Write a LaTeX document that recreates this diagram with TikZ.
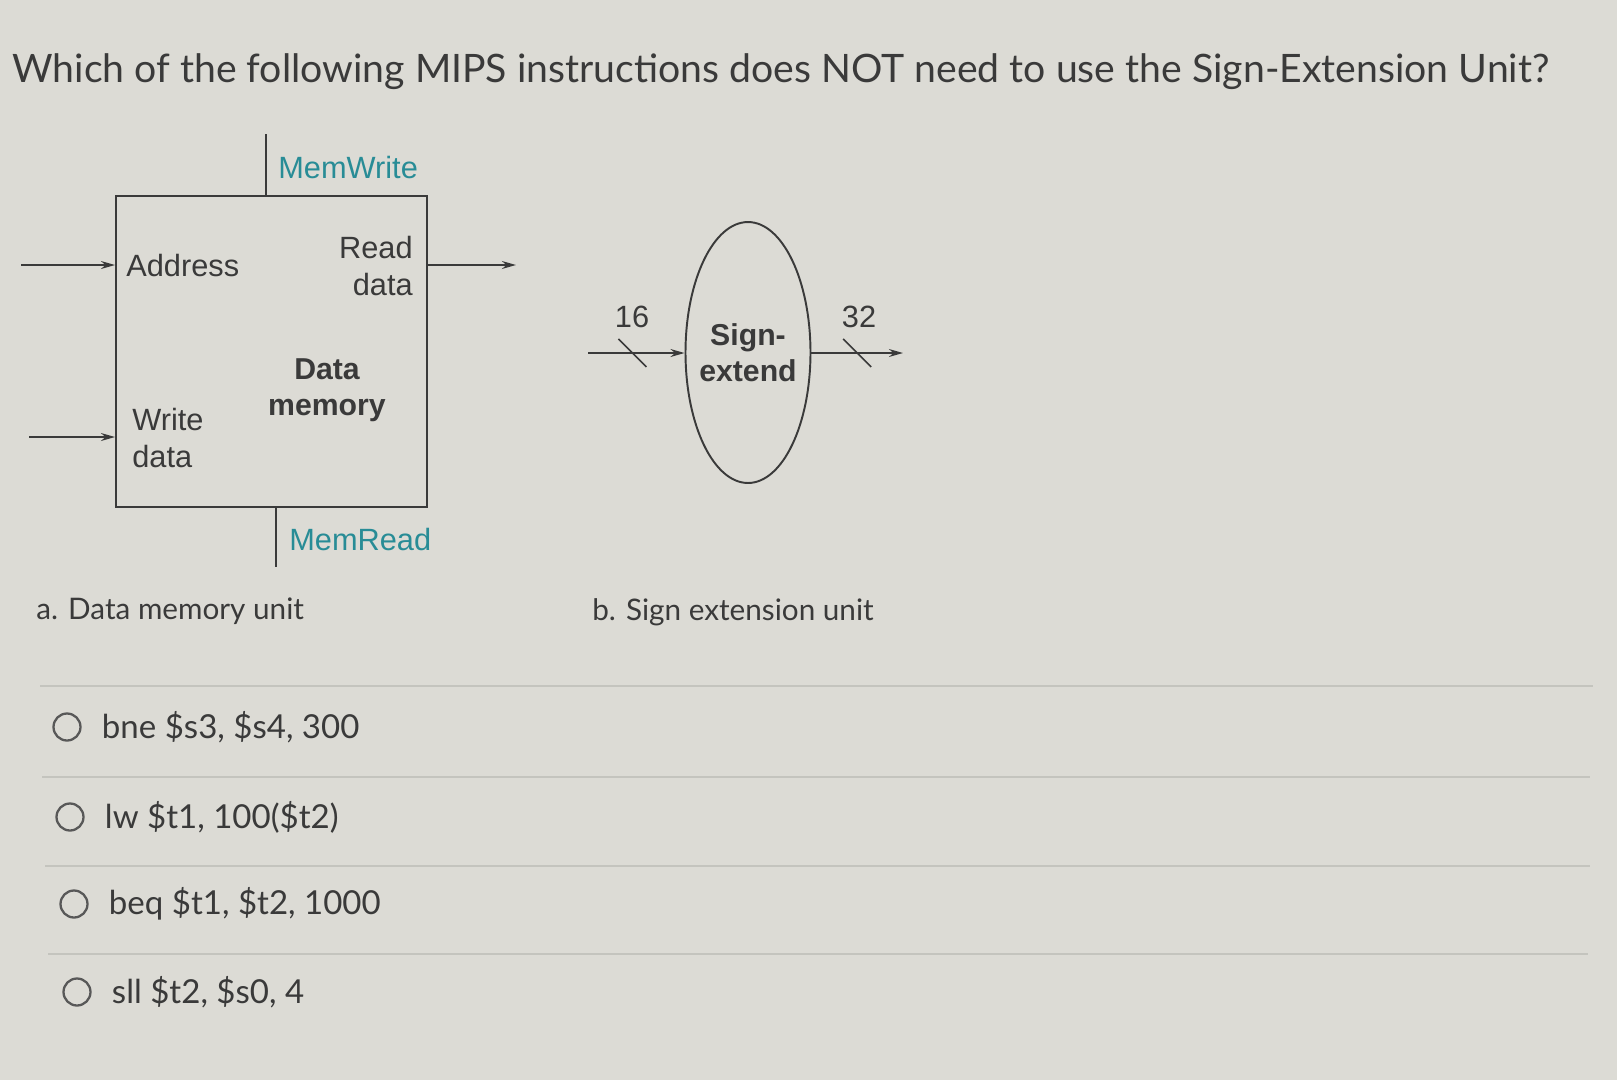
\documentclass[tikz,border=0pt]{standalone}
\usepackage{fontspec}
\setmainfont{Lato}
\newfontfamily\arialfont{Liberation Sans}
\usetikzlibrary{arrows.meta, positioning, calc, shapes.geometric}
\definecolor{bgpaper}{RGB}{220,219,213}
\definecolor{inktext}{RGB}{58,58,58}
\definecolor{ctrlteal}{RGB}{40,140,150}
\definecolor{rulegray}{RGB}{196,196,190}

\begin{document}
\begin{tikzpicture}[x=0.02cm, y=-0.02cm, >={Stealth[length=8pt,width=4.5pt]},
  every node/.style={text=inktext, inner sep=0pt},
  lbl/.style={font=\arialfont\fontsize{17.5}{20.5}\selectfont},
  ctrl/.style={lbl, text=ctrlteal},
  bold/.style={font=\arialfont\bfseries\fontsize{17.2}{20.5}\selectfont, align=center},
  wire/.style={draw=inktext, line width=1.1pt},
  rule/.style={draw=rulegray, line width=0.8pt},
  option/.style={font=\fontsize{18.8}{23}\selectfont},
  radio/.style={circle, draw=inktext!85, line width=1.3pt, minimum size=0.54cm}]
  \fill[bgpaper] (0,0) rectangle (1617,1080);
  \useasboundingbox (0,0) rectangle (1617,1080);

  \node[anchor=west, font=\fontsize{22.3}{27}\selectfont] (title) at (12,72)
    {Which of the following MIPS instructions does NOT need to use the Sign-Extension Unit?};

  % data memory unit
  \node[wire, minimum width=6.22cm, minimum height=6.22cm] (dmem) at (271.5,351.5) {};
  \node[bold] (dmemlbl) at (327,390) {Data\\memory};
  \node[lbl, anchor=west] (addr) at (126,265) {Address};
  \node[lbl, anchor=east, align=right] (rdata) at (413,266) {Read\\data};
  \node[lbl, anchor=west, align=left] (wdata) at (132,438) {Write\\data};
  \coordinate (addrin) at (21,265);
  \coordinate (wdin) at (29,437);
  \coordinate (rdout) at (516,265);
  \coordinate (mwtop) at (266,134);
  \coordinate (mrbot) at (276,567);
  \draw[wire, ->] (addrin) -- (addrin -| dmem.west);
  \draw[wire, ->] (wdin) -- (wdin -| dmem.west);
  \draw[wire, ->] (rdout -| dmem.east) -- (rdout);
  \draw[wire, line width=0.8pt] (mwtop) -- (mwtop |- dmem.north);
  \draw[wire, line width=0.8pt] (mrbot |- dmem.south) -- (mrbot);
  \node[ctrl, anchor=west] (mwlbl) at (278,167) {MemWrite};
  \node[ctrl, anchor=west] (mrlbl) at (289,539) {MemRead};

  % sign extension unit
  \node[ellipse, wire, minimum width=2.5cm, minimum height=5.22cm] (sext) at (748,352.5) {};
  \node[bold] (sextlbl) at (sext.center) {Sign-\\extend};
  \coordinate (sxin) at (588,353);
  \coordinate (sxout) at (903,353);
  \draw[wire, ->] (sxin) -- (sxin -| sext.west);
  \draw[wire, ->] (sxout -| sext.east) -- (sxout);
  \draw[wire, line width=0.9pt] ($(sxin)!0.46!(sxin -| sext.west)$) +(-14,-14) -- +(14,14);
  \draw[wire, line width=0.9pt] ($(sxout -| sext.east)!0.5!(sxout)$) +(-14,-14) -- +(14,14);
  \node[lbl] (w16) at (632,317) {16};
  \node[lbl] (w32) at (859,317) {32};

  \node[anchor=west, font=\fontsize{16.9}{21}\selectfont] (capa) at (36,611) {a. Data memory unit};
  \node[anchor=west, font=\fontsize{16.9}{21}\selectfont] (capb) at (592,612) {b. Sign extension unit};

  % answer options
  \draw[rule] (40,686) -- (1593,686);
  \draw[rule] (42,777) -- (1590,777);
  \draw[rule] (45,866) -- (1590,866);
  \draw[rule] (48,954) -- (1588,954);
  \node[radio] (rad1) at (67,727) {};
  \node[radio] (rad2) at (70,817) {};
  \node[radio] (rad3) at (74,904) {};
  \node[radio] (rad4) at (77,992) {};
  \node[option, right=0.4cm of rad1] (opt1) {bne \$s3, \$s4, 300};
  \node[option, right=0.4cm of rad2] (opt2) {lw \$t1, 100(\$t2)};
  \node[option, right=0.4cm of rad3] (opt3) {beq \$t1, \$t2, 1000};
  \node[option, right=0.4cm of rad4] (opt4) {sll \$t2, \$s0, 4};
\end{tikzpicture}
\end{document}
